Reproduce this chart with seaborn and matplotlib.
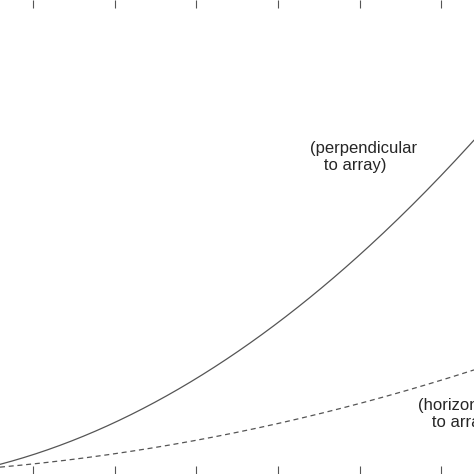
import matplotlib
matplotlib.use("Agg")
import matplotlib.pyplot as plt
import seaborn as sns
import pandas as pd
import numpy as np

sns.set_style("white")
plt.rcParams['font.family'] = ['Liberation Sans', 'DejaVu Sans']

# values (arbitrary units)
x_vals = [0.596, 1.82, 2.96, 4.27, 5.50, 6.40]
perpendicular = [0.15, 0.34, 0.94, 1.79, 2.52, 3.34]
x_dash = [0.596, 1.82, 3.05, 4.27, 5.50, 6.40]
horizontal = [0.06, 0.19, 0.36, 0.55, 0.79, 1.06]
xticks = [1, 2, 3, 4, 5, 6]

fig = plt.figure(figsize=(4.74, 4.74), dpi=100)
ax = fig.add_axes([0, 0, 1, 1])

# smooth the read points with a quadratic fit for drawing
xs = np.linspace(x_vals[0], x_vals[-1], 200)
p1 = np.polyfit(x_vals, perpendicular, 2)
p2 = np.polyfit(x_dash, horizontal, 2)
df = pd.DataFrame({'x': xs, 'perp': np.polyval(p1, xs), 'horiz': np.polyval(p2, xs)})
sns.lineplot(data=df, x='x', y='perp', ax=ax, color='#555555', linewidth=0.9)
sns.lineplot(data=df, x='x', y='horiz', ax=ax, color='#555555', linewidth=0.9,
             linestyle=(0, (4, 3)))

ax.text(4.39, 3.33, "(perpendicular\n   to array)", fontsize=12, va='top', ha='left',
        linespacing=1.15)
ax.text(5.72, 0.76, "(horizontal\n   to array)", fontsize=12, va='top', ha='left',
        linespacing=1.15, clip_on=False)

ax.set_xlim(0.596, 6.40)
ax.set_ylim(0, 4.74)
ax.set_xticks(xticks)
ax.set_yticks([])
ax.tick_params(axis='x', direction='in', top=True, bottom=True, length=6,
               labelbottom=False, color='#555555')
for s in ['left', 'right', 'top', 'bottom']:
    ax.spines[s].set_visible(False)
ax.set_xlabel('')
ax.set_ylabel('')

fig.savefig("out.png", dpi=100)
